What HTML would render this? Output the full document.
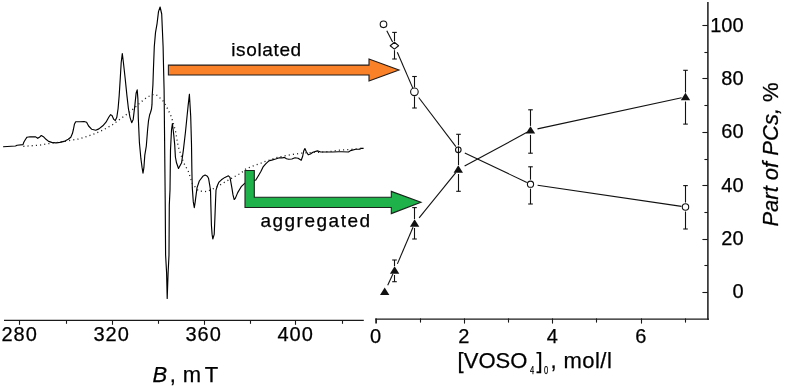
<!DOCTYPE html>
<html><head><meta charset="utf-8"><title>EPR spectrum and fraction of paramagnetic centres</title>
<style>
html,body{margin:0;padding:0;background:#fff;}
body{width:785px;height:387px;overflow:hidden;}
svg{display:block;}
</style></head><body>
<svg width="785" height="387" viewBox="0 0 785 387">
<rect width="785" height="387" fill="#fff"/>
<g fill="none" stroke="#000" stroke-width="1.15" stroke-linejoin="round">
<polyline points="3.1,146.8 15.5,146.0 17.1,145.2 23.0,144.6 23.8,142.2 25.4,139.5 27.0,137.2 30.0,136.7 35.7,136.9 37.7,138.3 39.8,136.9 41.3,135.5 43.4,136.7 46.0,139.3 48.6,141.4 51.7,142.4 55.8,142.9 59.9,142.4 64.1,141.4 68.2,139.3 70.8,137.2 72.4,133.6 73.4,129.5 74.4,124.3 75.7,121.7 80.0,121.7 84.1,121.5 86.6,122.2 88.6,126.0 91.8,129.3 95.7,130.2 98.9,128.9 102.8,125.8 106.0,122.2 108.9,117.0 110.6,114.7 112.0,115.5 113.8,119.4 115.3,120.5 116.8,117.3 118.1,108.5 119.2,95.4 120.3,77.8 121.2,62.5 122.3,53.5 123.4,62.5 125.1,77.8 126.9,95.4 128.4,108.5 130.0,117.3 131.7,122.7 133.2,119.4 135.0,104.1 136.1,93.2 137.2,89.9 137.9,98.9 138.3,118.0 139.4,142.5 140.9,158.7 142.1,167.7 143.0,173.1 143.9,167.7 144.8,155.1 146.3,146.1 147.6,129.8 148.5,120.8 149.6,115.0 150.5,112.5 151.5,109.0 152.0,104.4 152.2,95.3 152.9,85.0 153.4,70.0 154.3,46.5 155.5,32.6 157.1,23.3 158.5,11.6 160.1,7.0 161.7,14.0 162.4,30.2 163.1,46.5 163.6,69.8 164.1,90.0 164.5,130.0 165.2,200.0 165.6,255.0 166.6,273.0 167.2,298.5 168.1,273.0 169.0,255.0 169.3,205.0 170.0,190.0 170.5,150.0 171.5,130.0 172.4,123.5 173.6,133.5 174.7,144.6 175.4,157.0 176.5,162.8 178.5,168.5 181.6,162.8 183.4,149.8 185.5,131.7 186.8,118.8 188.1,105.9 189.4,94.2 190.7,116.2 191.5,144.6 191.9,171.6 192.3,187.9 193.3,201.9 194.3,207.7 195.2,201.9 197.0,187.9 199.3,181.0 202.8,176.3 205.1,175.1 207.4,176.3 208.6,178.6 209.8,185.6 210.5,190.2 210.9,206.5 211.4,225.0 212.1,234.4 212.8,239.0 214.2,234.4 214.9,218.0 215.6,199.5 216.0,190.2 217.4,185.6 219.0,182.1 221.4,179.8 224.9,177.4 228.4,175.8 230.0,177.4 231.9,187.9 233.0,194.9 234.2,199.5 235.3,198.4 237.7,192.6 241.2,186.7 244.7,183.3 250.0,182.0 255.8,180.0 258.7,175.2 261.0,171.3 263.3,166.6 265.7,163.9 267.8,161.9 269.5,160.6 271.7,160.1 275.6,159.0 279.5,157.8 282.6,157.8 284.5,157.4 286.4,158.8 288.8,159.3 291.9,159.0 295.0,157.8 298.1,158.2 301.2,160.3 302.6,156.5 303.8,150.7 304.9,148.5 306.2,151.5 308.2,154.8 310.4,154.0 312.9,152.2 317.4,150.9 320.7,152.0 325.8,152.0 332.7,152.0 338.5,151.7 342.0,151.8 348.5,152.0 350.5,150.6 355.8,149.2 359.5,149.2 361.0,148.3 363.6,148.3"/>
</g>
<polyline points="23.3,146.3 31.0,145.8 39.3,145.2 46.5,143.9 55.8,142.7 64.1,141.4 70.3,140.3 78.6,139.0 85.3,137.0 94.4,133.8 103.4,129.9 112.5,124.7 120.3,118.9 126.7,114.4 130.6,111.2 141.2,101.8 147.0,97.3 152.2,94.7 156.1,94.6 159.3,97.3 163.9,101.8 165.8,105.7 167.7,108.9 171.0,116.0 172.3,119.9 175.5,130.9 178.1,146.2 183.5,162.5 188.3,171.3 192.4,183.7 198.6,191.0 206.9,191.6 215.1,187.9 225.5,181.7 233.1,177.5 237.0,175.2 240.1,173.6 243.2,171.4 246.3,168.5 250.2,167.2 253.3,165.9 256.7,164.7 261.0,163.1 265.7,161.2 269.5,160.2 276.4,157.6 288.0,155.2 300.0,153.3 305.0,152.8 320.0,152.2 330.0,151.5 339.4,150.2 346.0,149.7 356.0,149.0 363.0,148.3" fill="none" stroke="#222" stroke-width="1.3" stroke-dasharray="1.1 3.1"/>
<g stroke="#1a1a1a" stroke-width="1.1" fill="none">
<line x1="4" y1="320.3" x2="363.8" y2="320.3" stroke-width="1.3"/>
<line x1="19.5" y1="320.3" x2="19.5" y2="324.8"/>
<line x1="66.5" y1="320.3" x2="66.5" y2="323.8"/>
<line x1="112.5" y1="320.3" x2="112.5" y2="324.8"/>
<line x1="158.5" y1="320.3" x2="158.5" y2="323.8"/>
<line x1="204.5" y1="320.3" x2="204.5" y2="324.8"/>
<line x1="250.5" y1="320.3" x2="250.5" y2="323.8"/>
<line x1="295.5" y1="320.3" x2="295.5" y2="324.8"/>
<line x1="342.5" y1="320.3" x2="342.5" y2="323.8"/>
<line x1="375.3" y1="319.1" x2="709" y2="319.1" stroke-width="1.4"/>
<line x1="376.1" y1="318.4" x2="376.1" y2="323.6" stroke-width="1.7"/>
<line x1="420.5" y1="318.4" x2="420.5" y2="322.6"/>
<line x1="464.5" y1="318.4" x2="464.5" y2="323.6"/>
<line x1="508.5" y1="318.4" x2="508.5" y2="322.6"/>
<line x1="552.5" y1="318.4" x2="552.5" y2="323.6"/>
<line x1="596.5" y1="318.4" x2="596.5" y2="322.6"/>
<line x1="641.5" y1="318.4" x2="641.5" y2="323.6"/>
<line x1="685.5" y1="318.4" x2="685.5" y2="322.6"/>
<line x1="707.9" y1="1.9" x2="707.9" y2="319.8" stroke-width="1.5"/>
<line x1="702.4" y1="292.5" x2="707.9" y2="292.5"/>
<line x1="704.4" y1="265.5" x2="707.9" y2="265.5"/>
<line x1="702.4" y1="239.5" x2="707.9" y2="239.5"/>
<line x1="704.4" y1="212.5" x2="707.9" y2="212.5"/>
<line x1="702.4" y1="185.5" x2="707.9" y2="185.5"/>
<line x1="704.4" y1="159.5" x2="707.9" y2="159.5"/>
<line x1="702.4" y1="132.5" x2="707.9" y2="132.5"/>
<line x1="704.4" y1="105.5" x2="707.9" y2="105.5"/>
<line x1="702.4" y1="78.5" x2="707.9" y2="78.5"/>
<line x1="704.4" y1="52.5" x2="707.9" y2="52.5"/>
<line x1="702.4" y1="25.5" x2="707.9" y2="25.5"/>
</g>
<g stroke="#111" stroke-width="1.1" fill="none">
<line x1="386.8" y1="30.7" x2="392.6" y2="42.1"/>
<line x1="397.3" y1="52.3" x2="412.8" y2="88.1"/>
<line x1="418.7" y1="97.5" x2="455.9" y2="146.6"/>
<line x1="464.8" y1="152.9" x2="526.9" y2="182.5"/>
<line x1="537.6" y1="185.2" x2="681.5" y2="206.4"/>
<line x1="387.7" y1="285.3" x2="392.9" y2="274.1"/>
<line x1="397.4" y1="263.9" x2="413.0" y2="227.2"/>
<line x1="419.1" y1="217.9" x2="455.8" y2="172.6"/>
<line x1="464.6" y1="166.1" x2="527.0" y2="132.3"/>
<line x1="537.5" y1="128.9" x2="681.6" y2="97.8"/>
<line x1="394.5" y1="32.4" x2="394.5" y2="41.2"/>
<line x1="392.2" y1="32.4" x2="396.8" y2="32.4"/>
<line x1="394.5" y1="50.2" x2="394.5" y2="59"/>
<line x1="392.2" y1="59" x2="396.8" y2="59"/>
<line x1="414.5" y1="76.5" x2="414.5" y2="87.3"/>
<line x1="412.2" y1="76.5" x2="416.8" y2="76.5"/>
<line x1="414.5" y1="96.3" x2="414.5" y2="108"/>
<line x1="412.2" y1="108" x2="416.8" y2="108"/>
<line x1="458.5" y1="134.3" x2="458.5" y2="145.3"/>
<line x1="456.2" y1="134.3" x2="460.8" y2="134.3"/>
<line x1="530.5" y1="166.8" x2="530.5" y2="179.7"/>
<line x1="528.2" y1="166.8" x2="532.8" y2="166.8"/>
<line x1="530.5" y1="188.7" x2="530.5" y2="204"/>
<line x1="528.2" y1="204" x2="532.8" y2="204"/>
<line x1="685.5" y1="185.6" x2="685.5" y2="202.5"/>
<line x1="683.2" y1="185.6" x2="687.8" y2="185.6"/>
<line x1="685.5" y1="211.5" x2="685.5" y2="229"/>
<line x1="683.2" y1="229" x2="687.8" y2="229"/>
<line x1="394.5" y1="260" x2="394.5" y2="266.0"/>
<line x1="392.2" y1="260" x2="396.8" y2="260"/>
<line x1="394.5" y1="275.0" x2="394.5" y2="281.7"/>
<line x1="392.2" y1="281.7" x2="396.8" y2="281.7"/>
<line x1="414.5" y1="207.6" x2="414.5" y2="219.0"/>
<line x1="412.2" y1="207.6" x2="416.8" y2="207.6"/>
<line x1="414.5" y1="228.0" x2="414.5" y2="239"/>
<line x1="412.2" y1="239" x2="416.8" y2="239"/>
<line x1="458.5" y1="174.0" x2="458.5" y2="191.3"/>
<line x1="456.2" y1="191.3" x2="460.8" y2="191.3"/>
<line x1="530.5" y1="109.8" x2="530.5" y2="125.9"/>
<line x1="528.2" y1="109.8" x2="532.8" y2="109.8"/>
<line x1="530.5" y1="134.9" x2="530.5" y2="153.2"/>
<line x1="528.2" y1="153.2" x2="532.8" y2="153.2"/>
<line x1="685.5" y1="70.3" x2="685.5" y2="92.5"/>
<line x1="683.2" y1="70.3" x2="687.8" y2="70.3"/>
<line x1="685.5" y1="101.5" x2="685.5" y2="124.1"/>
<line x1="683.2" y1="124.1" x2="687.8" y2="124.1"/>
</g>
<g stroke="#111" stroke-width="1.1" fill="#fff">
<circle cx="383.5" cy="24.3" r="3.3"/>
<polygon points="390.2,45.7 394.4,42.3 398.6,45.7 394.4,49.1" stroke-linejoin="round"/>
<circle cx="414.4" cy="91.8" r="3.8"/>
<circle cx="458.3" cy="149.8" r="2.8"/>
<circle cx="530.5" cy="184.2" r="3.1"/>
<circle cx="685.5" cy="207" r="3.2"/>
</g>
<line x1="458.5" y1="146.5" x2="458.5" y2="165" stroke="#111" stroke-width="1.1"/>
<g fill="#111" stroke="none">
<polygon points="384.7,287.6 389.4,295.0 380.0,295.0"/>
<polygon points="394.6,266.3 399.3,273.7 389.9,273.7"/>
<polygon points="414.6,219.3 419.3,226.7 409.9,226.7"/>
<polygon points="458.3,165.3 463.0,172.7 453.6,172.7"/>
<polygon points="530.5,126.2 535.2,133.6 525.8,133.6"/>
<polygon points="685.5,92.8 690.2,100.2 680.8,100.2"/>
</g>
<polygon points="168.4,65.1 369,65.1 369,59 399,69.9 369,81 369,75 168.4,75" fill="#FA8127" stroke="#231c1c" stroke-width="1.1" stroke-linejoin="miter"/>
<polygon points="245,170.5 254.3,170.5 254.3,197.2 391.3,197.2 391.3,191.4 421,202.2 391.3,213.6 391.3,207.5 245,207.5" fill="#1FB24A" stroke="#1a221c" stroke-width="1.1"/>
<g fill="#000" stroke="#000" stroke-width="0.25">
<text x="266.5" y="56" font-family="Liberation Sans, Arial, sans-serif" font-size="19" letter-spacing="0.65" text-anchor="middle">isolated</text>
<text x="316" y="226.5" font-family="Liberation Sans, Arial, sans-serif" font-size="19" letter-spacing="1.5" text-anchor="middle">aggregated</text>
<text x="19.6" y="340.8" font-family="Liberation Sans, Arial, sans-serif" font-size="20" letter-spacing="1" text-anchor="middle">280</text>
<text x="111.6" y="340.8" font-family="Liberation Sans, Arial, sans-serif" font-size="20" letter-spacing="1" text-anchor="middle">320</text>
<text x="203.6" y="340.8" font-family="Liberation Sans, Arial, sans-serif" font-size="20" letter-spacing="1" text-anchor="middle">360</text>
<text x="295.6" y="340.8" font-family="Liberation Sans, Arial, sans-serif" font-size="20" letter-spacing="1" text-anchor="middle">400</text>
<text x="375.5" y="343.1" font-family="Liberation Sans, Arial, sans-serif" font-size="20" text-anchor="middle">0</text>
<text x="463.9" y="343.1" font-family="Liberation Sans, Arial, sans-serif" font-size="20" text-anchor="middle">2</text>
<text x="552.3" y="343.1" font-family="Liberation Sans, Arial, sans-serif" font-size="20" text-anchor="middle">4</text>
<text x="640.7" y="343.1" font-family="Liberation Sans, Arial, sans-serif" font-size="20" text-anchor="middle">6</text>
<text x="743.6" y="298.3" font-family="Liberation Sans, Arial, sans-serif" font-size="20" text-anchor="end">0</text>
<text x="743.6" y="245.0" font-family="Liberation Sans, Arial, sans-serif" font-size="20" text-anchor="end">20</text>
<text x="743.6" y="191.6" font-family="Liberation Sans, Arial, sans-serif" font-size="20" text-anchor="end">40</text>
<text x="743.6" y="138.3" font-family="Liberation Sans, Arial, sans-serif" font-size="20" text-anchor="end">60</text>
<text x="743.6" y="84.9" font-family="Liberation Sans, Arial, sans-serif" font-size="20" text-anchor="end">80</text>
<text x="743.6" y="31.6" font-family="Liberation Sans, Arial, sans-serif" font-size="20" text-anchor="end">100</text>
<text x="152.6" y="382" font-family="Liberation Sans, Arial, sans-serif" font-size="22" font-style="italic">B</text>
<text x="169.8" y="382" font-family="Liberation Sans, Arial, sans-serif" font-size="22">,</text>
<text x="182.8" y="382" font-family="Liberation Sans, Arial, sans-serif" font-size="22">m</text>
<text x="204.8" y="382" font-family="Liberation Sans, Arial, sans-serif" font-size="22">T</text>
<text y="368.2" font-family="Liberation Sans, Arial, sans-serif" font-size="22"><tspan x="457.6">[VOSO</tspan><tspan x="536.4">]</tspan><tspan x="550.6">,</tspan><tspan x="563.4" letter-spacing="0.5">mol/l</tspan></text>
<text x="530" y="374.4" font-family="Liberation Sans, Arial, sans-serif" font-size="10.5" textLength="4.2" lengthAdjust="spacingAndGlyphs">4</text>
<text x="544" y="374.4" font-family="Liberation Sans, Arial, sans-serif" font-size="10.5" textLength="4.2" lengthAdjust="spacingAndGlyphs">0</text>
<text transform="translate(778,226.6) rotate(-90)" font-family="Liberation Sans, Arial, sans-serif" font-size="22" font-style="italic">Part of PCs, <tspan font-style="normal">%</tspan></text>
</g>
</svg>
</body></html>
